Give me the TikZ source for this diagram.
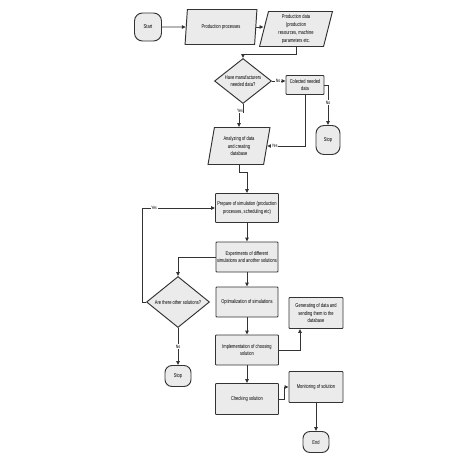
\documentclass[tikz,border=0pt]{standalone}
\usepackage{fontspec}
\setmainfont{Liberation Sans}[FakeStretch=0.72]
\usetikzlibrary{shapes.geometric,arrows.meta}
\definecolor{boxfill}{HTML}{EBEBEB}
\definecolor{linec}{HTML}{333333}
\begin{document}
\begin{tikzpicture}[x=1pt,y=-1pt,
  every node/.style={font=\fontsize{5.6}{7.9}\selectfont, align=center, text=black},
  base/.style={draw=linec, fill=boxfill, line width=0.95pt, inner sep=1pt},
  boxx/.style={base, rectangle, rounded corners=0.8pt},
  term/.style={base, rectangle, rounded corners=8pt},
  para/.style={base, trapezium, trapezium left angle=79, trapezium right angle=101, trapezium stretches=true},
  dia/.style={base, diamond, inner sep=0pt, aspect=1.25},
  conn/.style={draw=linec, line width=0.95pt, -{Triangle[length=4pt,width=3.6pt]}},
  lbl/.style={font=\fontsize{4.8}{5}\selectfont, fill=white, inner sep=0.6pt}
]
\path[use as bounding box, fill=white] (0,0) rectangle (474,459);

\node[term, minimum width=27pt, minimum height=28pt] (start) at (148,27) {Start};
\node[para, minimum width=72pt, minimum height=35pt] (pp) at (221,27) {Production processes};
\node[para, minimum width=73pt, minimum height=35pt] (pd) at (296,29) {Production data\\(production\\resources, machine\\parameters etc.};
\node[dia, minimum width=57pt, minimum height=45pt] (d1) at (243,81) {Have manufacturers\\needed data?};
\node[boxx, minimum width=38pt, minimum height=19pt] (col) at (305,85) {Colected needed\\data};
\node[term, minimum width=24pt, minimum height=29pt] (stop1) at (328,140) {Stop};
\node[para, minimum width=62pt, minimum height=37pt] (an) at (239,146) {Analyzing of data\\and creating\\database};
\node[boxx, minimum width=63pt, minimum height=29pt] (prep) at (247,208) {Prepare of simulation (production\\processes, scheduling etc)};
\node[boxx, minimum width=62pt, minimum height=30pt] (exp) at (247,257) {Experiments of different\\simulations and another solutions};
\node[dia, minimum width=63pt, minimum height=51pt] (d2) at (178,302) {Are there other solutions?};
\node[boxx, minimum width=62pt, minimum height=30pt] (opt) at (247,302) {Optimalization of simulations};
\node[boxx, minimum width=54pt, minimum height=31pt] (gen) at (316,313) {Generating of data and\\sending them to the\\database};
\node[boxx, minimum width=63pt, minimum height=30pt] (impl) at (247,350) {Implementation of choosing\\solution};
\node[boxx, minimum width=63pt, minimum height=31pt] (chk) at (247,399) {Checking solution};
\node[boxx, minimum width=54pt, minimum height=31pt] (mon) at (316,387) {Monitoring of solution};
\node[term, minimum width=26pt, minimum height=21pt, rounded corners=7pt] (end) at (316,442) {End};
\node[term, minimum width=26pt, minimum height=21pt, rounded corners=7pt] (stop2) at (178,376) {Stop};

\coordinate (genin) at ([xshift=-16pt]gen.south);

\draw[conn] (start.east) -- (pp.east -| pp.west);
\draw[conn] (pp.east) -- (pp.east -| pd.west);
\draw[conn] (pd.south) -- ++(0,7) -| (d1.north);
\draw[conn] (d1.east) -- node[lbl, pos=0.45] {No} (d1.east -| col.west);
\draw[conn] (col.east) -| node[lbl, pos=0.72] {No} (stop1.north);
\draw[conn] (col.south) |- node[lbl, pos=0.9] {Yes} (an.east);
\draw[conn] (d1.south) -- ++(0,8) node[lbl, pos=0.9, xshift=-3pt] {Yes} -| (an.north);
\draw[conn] (an.south) -- ++(0,7) -| (prep.north);
\draw[conn] (prep) -- (exp);
\draw[conn] (exp) -- (opt);
\draw[conn] (opt) -- (impl);
\draw[conn] (impl) -- (chk);
\draw[conn] (exp.west) -| (d2.north);
\draw[conn] (d2.west) -- ++(-3.5,0) |- node[lbl, pos=0.58] {Yes} (prep.west);
\draw[conn] (d2.south) -- node[lbl] {No} (stop2.north);
\draw[conn] (impl.east) -| (genin);
\draw[conn] (chk.east) -- ++(5,0) |- (mon.west);
\draw[conn] (mon.south) -- (end.north);
\end{tikzpicture}
\end{document}
